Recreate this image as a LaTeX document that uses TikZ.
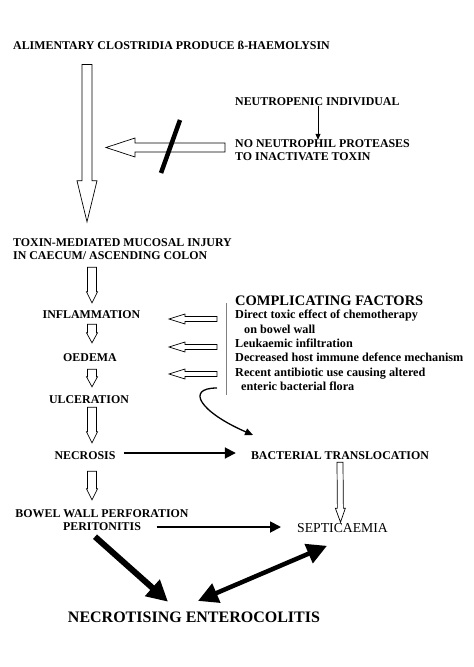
\documentclass[tikz,border=0pt]{standalone}
\usepackage{fontspec}
\setmainfont{Liberation Serif}
\usetikzlibrary{calc,arrows.meta}

% block arrow: start, tip, shaft half width, head half width, head length
\newcommand{\hollowarrow}[5]{%
  \path (#1) coordinate (ha) (#2) coordinate (hz) ($(hz)!#5!(ha)$) coordinate (hb);
  \draw[hollow] ($(ha)!#3!90:(hz)$) -- ($(hb)!#3!90:(hz)$) -- ($(hb)!#4!90:(hz)$) -- (hz)
    -- ($(hb)!#4!-90:(hz)$) -- ($(hb)!#3!-90:(hz)$) -- ($(ha)!#3!-90:(hz)$) -- cycle;}

\begin{document}
\begin{tikzpicture}[x=1pt,y=-1pt,
    lbl/.style={font=\fontsize{11.9}{13}\selectfont\bfseries, inner sep=0pt, align=left},
    hollow/.style={draw, fill=white, line width=0.7pt, line join=miter},
    thin arrow/.style={line width=1.8pt, -{Triangle[length=11pt,width=11pt]}},
    fat arrow/.style={line width=6pt, -{Triangle[length=21pt,width=21pt]}},
    fat double/.style={line width=4.5pt, {Triangle[length=20pt,width=20pt]}-{Triangle[length=20pt,width=20pt]}}]
  \useasboundingbox (0,0) rectangle (474,667);

  % top part
  \node[lbl, anchor=west] (title) at (13,45) {ALIMENTARY CLOSTRIDIA PRODUCE ß-HAEMOLYSIN};
  \node[lbl, anchor=west] (neutro) at (235,102) {NEUTROPENIC INDIVIDUAL};
  \node[lbl, anchor=west] (noprot) at (235,150.5) {NO NEUTROPHIL PROTEASES\\TO INACTIVATE TOXIN};
  \node[lbl, anchor=west] (toxin) at (13,249.5) {TOXIN-MEDIATED MUCOSAL INJURY\\IN CAECUM/ ASCENDING COLON};

  \draw[line width=0.8pt, -{Triangle[length=6pt,width=5pt]}] (neutro.south -| 318,0) -- (noprot.north -| 318,0);
  \hollowarrow{$(title.south west -| 87,0)+(0,15)$}{$(toxin.north -| 87,0)+(0,-17)$}{5pt}{10pt}{41pt}
  \hollowarrow{$(noprot.west)+(-10,-3)$}{$(noprot.west)+(-129,-3)$}{4.5pt}{9.5pt}{29pt}
  \draw[line width=4.5pt] (180,120) -- (161,173);

  % chain
  \node[lbl] (inflam) at (91.5,315) {INFLAMMATION};
  \node[lbl] (oedema) at (90,358) {OEDEMA};
  \node[lbl] (ulcer) at (89,400) {ULCERATION};
  \node[lbl] (necrosis) at (85,456) {NECROSIS};
  \node[lbl, align=center] (bowel) at (102,520.5) {BOWEL WALL PERFORATION\\PERITONITIS};

  \hollowarrow{$(toxin.south -| 92,0)+(0,7)$}{$(inflam.north -| 92,0)+(0,-8)$}{4.5pt}{5.5pt}{11pt}
  \hollowarrow{$(inflam.south -| 92,0)+(0,5)$}{$(oedema.north -| 92,0)+(0,-11)$}{4.5pt}{5.5pt}{10pt}
  \hollowarrow{$(oedema.south -| 92,0)+(0,7)$}{$(ulcer.north -| 92,0)+(0,-9)$}{4.5pt}{5.5pt}{10pt}
  \hollowarrow{$(ulcer.south -| 92,0)+(0,3)$}{$(necrosis.north -| 92,0)+(0,-9)$}{4.5pt}{5.5pt}{11pt}
  \hollowarrow{$(necrosis.south -| 92,0)+(0,11)$}{$(bowel.north -| 92,0)+(0,-10)$}{4.5pt}{5.5pt}{11pt}

  % complicating factors
  \node[lbl, anchor=west, font=\fontsize{14.5}{16}\selectfont\bfseries] (compl) at (235,301) {COMPLICATING FACTORS};
  \node[lbl, anchor=north west, font=\fontsize{12.2}{14.4}\selectfont\bfseries] (factors) at (235,310)
    {Direct toxic effect of chemotherapy\\\hspace{9pt}on bowel wall\\Leukaemic infiltration\\
     Decreased host immune defence mechanism\\Recent antibiotic use causing altered\\\hspace{6pt}enteric bacterial flora};
  \draw[gray, line width=0.6pt] (226,303) -- (226,395);
  \coordinate (f1) at (217,319);
  \coordinate (f2) at (217,347);
  \coordinate (f3) at (217,374);
  \foreach \f in {f1,f2,f3}{
    \hollowarrow{\f}{$(\f)+(-48,0)$}{2.5pt}{5pt}{16pt}
  }

  % lower part
  \node[lbl] (bact) at (340,456) {BACTERIAL TRANSLOCATION};
  \node[font=\fontsize{13.7}{15}\selectfont, inner sep=0pt] (septic) at (342.5,528) {SEPTICAEMIA};
  \node[font=\fontsize{16}{18}\selectfont\bfseries, inner sep=0pt] (nec) at (194,617) {NECROTISING ENTEROCOLITIS};

  \draw[line width=1.3pt, -{Triangle[length=8pt,width=7pt]}] (217,388) .. controls (185,388) and (200,412) .. (253,435);
  \draw[thin arrow] ($(necrosis.east)+(8,-3)$) -- ($(bact.west)+(-15,-3)$);
  \hollowarrow{$(bact.south)+(0,2)$}{$(septic.north)+(-2,-1)$}{3pt}{5pt}{14pt}
  \draw[thin arrow] ($(septic.west -| bowel.east)+(-32,-1)$) -- ($(septic.west)+(-16,-1)$);
  \draw[fat arrow] ($(bowel.south)+(-7,5.5)$) -- ($(nec.north)+(-26,-9.7)$);
  \draw[fat double] ($(nec.north)+(4,-10.5)$) -- ($(septic.south)+(-15.5,13)$);
\end{tikzpicture}
\end{document}
